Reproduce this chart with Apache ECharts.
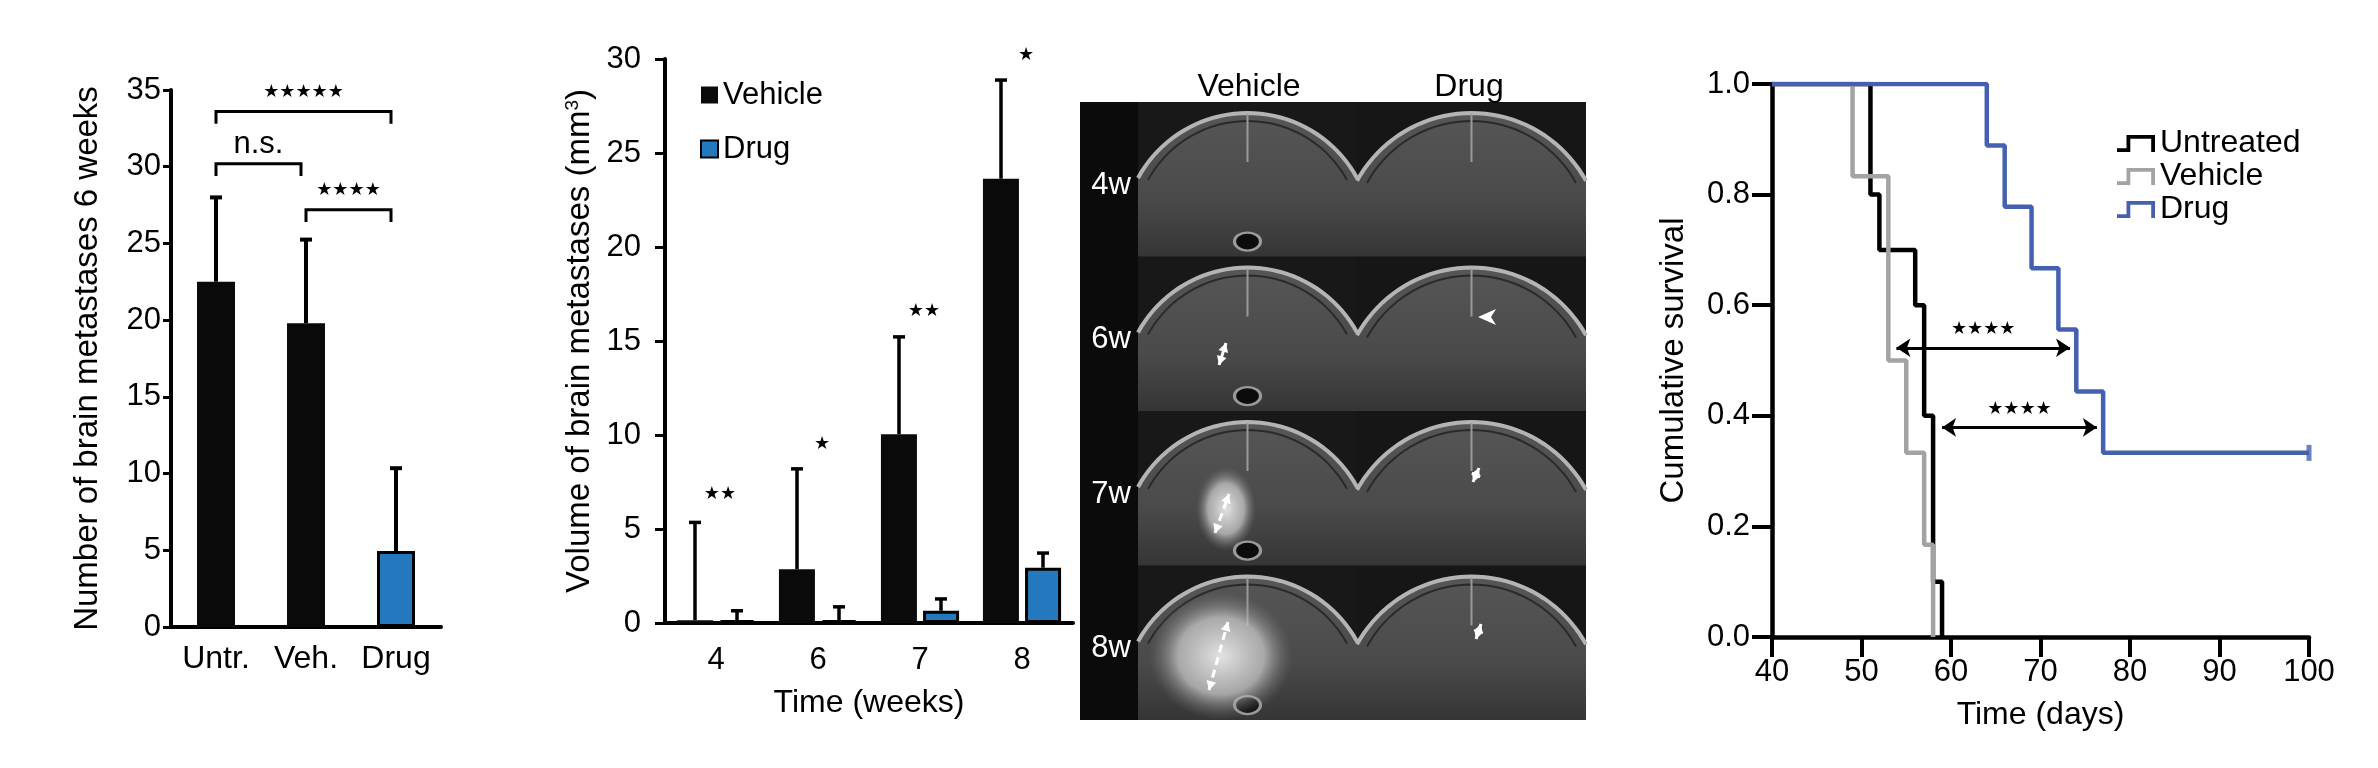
<!DOCTYPE html>
<html>
<head>
<meta charset="utf-8">
<title>Brain metastases figure</title>
<script src="https://cdn.jsdelivr.net/npm/echarts@6/dist/echarts.min.js"></script>
<style>
  html, body { margin: 0; padding: 0; background: #fff; }
  #chart { width: 2378px; height: 768px; }
</style>
</head>
<body>
<div id="chart"></div>
<script>
// --- panel A: number of metastases at 6 weeks ---
const metCategories = ['Untr.', 'Veh.', 'Drug'];
const metMean = [22.5, 19.8, 4.95];
const metErr = [5.5, 5.45, 5.4];
const bracketFrom = [0, 0, 1];
const bracketTo = [2, 1, 2];
const bracketY = [33.6, 30.2, 27.2];
const bracketText = ['★★★★★', 'n.s.', '★★★★'];

// --- panel B: volume over time ---
const weeks = ['4', '6', '7', '8'];
const vehicleMean = [0.15, 2.86, 10.04, 23.63];
const vehicleErr = [5.2, 5.34, 5.18, 5.25];
const drugMean = [0.15, 0.15, 0.65, 2.94];
const drugErr = [0.5, 0.71, 0.63, 0.78];
const weekStars = ['★★', '★', '★★', '★'];
const weekStarY = [6.85, 9.5, 16.6, 30.2];

// --- panel C: MRI montage labels ---
const mriColumns = ['Vehicle', 'Drug'];
const mriRows = ['4w', '6w', '7w', '8w'];

// --- panel D: Kaplan-Meier survival ---
const untrDays = [40, 51, 52, 56, 57, 58, 59];
const untrSurv = [1, 0.8, 0.7, 0.6, 0.4, 0.1, 0];
const vehDays = [40, 49, 53, 55, 57, 58];
const vehSurv = [1, 0.833, 0.5, 0.333, 0.167, 0];
const drugDays = [40, 64, 66, 69, 72, 74, 77, 100];
const drugSurv = [1, 0.889, 0.778, 0.667, 0.556, 0.444, 0.333, 0.333];
const logrankFrom = [53.9, 59.0];
const logrankTo = [73.3, 76.3];
const logrankY = [0.523, 0.379];
const logrankText = ['★★★★', '★★★★'];

const FONT = '"Liberation Sans", Arial, Helvetica, sans-serif';
const STAR_FONT = '"DejaVu Sans", sans-serif';
const BLUE = '#2479be';
const KM_BLUE = '#4560b0';
const KM_GREY = '#a3a3a3';

const zip = (a, b) => a.map((v, i) => [v, b[i]]);

function errorBars(axisIdx, mean, err, shift, width) {
    return {
        type: 'custom',
        xAxisIndex: axisIdx,
        yAxisIndex: axisIdx,
        z: 5,
        silent: true,
        data: mean.map((m, i) => [i, m, m + err[i]]),
        encode: { x: 0, y: [1, 2] },
        renderItem: (params, api) => {
            const base = api.coord([api.value(0), api.value(1)]);
            const top = api.coord([api.value(0), api.value(2)]);
            const x = base[0] + shift;
            const st = { stroke: '#000', lineWidth: width };
            return {
                type: 'group',
                children: [
                    { type: 'line', shape: { x1: x, y1: base[1], x2: x, y2: top[1] }, style: st },
                    { type: 'line', shape: { x1: x - 6, y1: top[1], x2: x + 6, y2: top[1] }, style: st }
                ]
            };
        }
    };
}

function valueAxis(idx, max, interval, opts) {
    return Object.assign({
        type: 'value',
        gridIndex: idx,
        min: 0,
        max: max,
        interval: interval,
        nameLocation: 'middle',
        nameMoveOverlap: false,
        nameTextStyle: { fontFamily: FONT, fontSize: 33, color: '#000' },
        axisLine: { show: true, lineStyle: { color: '#000', width: 4 } },
        axisTick: { show: true, length: 8, lineStyle: { color: '#000', width: 3 } },
        axisLabel: { fontFamily: FONT, fontSize: 31, color: '#000', margin: 12 },
        splitLine: { show: false }
    }, opts);
}

// ---- MRI montage drawn as plain graphics ----
const MRI = { x: 1080, y: 102, w: 506, h: 618, labelW: 58, split: 1357 };

function domePoints(x0, y0, w, h, inset) {
    const half = w / 2;
    const r = half * 1.14;
    const cx = x0 + half;
    const cy = y0 + inset + r;
    const dy = Math.sqrt(r * r - half * half);
    const a0 = Math.atan2(-dy, -half);
    const a1 = Math.atan2(-dy, half);
    const arc = [];
    for (let k = 0; k <= 40; k++) {
        const a = a0 + (a1 - a0) * k / 40;
        arc.push([cx + r * Math.cos(a), cy + r * Math.sin(a)]);
    }
    return { arc, cx, cy, r };
}

function arrowGraphic(x1, y1, x2, y2, dashed) {
    const ang = Math.atan2(y2 - y1, x2 - x1);
    const head = (x, y, a) => ({
        type: 'polygon',
        shape: { points: [[x, y],
            [x - 9 * Math.cos(a) + 5 * Math.sin(a), y - 9 * Math.sin(a) - 5 * Math.cos(a)],
            [x - 9 * Math.cos(a) - 5 * Math.sin(a), y - 9 * Math.sin(a) + 5 * Math.cos(a)]] },
        style: { fill: '#fff' }, z: 20
    });
    return [
        { type: 'line', shape: { x1, y1, x2, y2 },
          style: { stroke: '#fff', lineWidth: 3, lineDash: dashed ? [8, 5] : null }, z: 20 },
        head(x2, y2, ang),
        head(x1, y1, ang + Math.PI)
    ];
}

function mriGraphics() {
    const els = [];
    els.push({ type: 'rect', shape: { x: MRI.x, y: MRI.y, width: MRI.w, height: MRI.h },
               style: { fill: '#0b0b0b' }, z: 1 });
    const rowH = MRI.h / mriRows.length;
    const cols = [
        { x: MRI.x + MRI.labelW, w: MRI.split - MRI.x - MRI.labelW },
        { x: MRI.split, w: MRI.x + MRI.w - MRI.split }
    ];
    mriRows.forEach((row, r) => {
        const y0 = MRI.y + r * rowH;
        cols.forEach((c, ci) => {
            els.push({ type: 'rect', shape: { x: c.x, y: y0, width: c.w, height: rowH },
                       style: { fill: ci === 0 ? '#181818' : '#161616' }, z: 2 });
            const d = domePoints(c.x, y0, c.w, rowH, 11);
            const poly = d.arc.concat([[c.x + c.w, y0 + rowH], [c.x, y0 + rowH]]);
            els.push({ type: 'polygon', shape: { points: poly },
                       style: { fill: new echarts.graphic.LinearGradient(0, 0, 0, 1, [
                           { offset: 0, color: '#565656' }, { offset: 0.6, color: '#4a4a4a' },
                           { offset: 1, color: '#353535' }]) }, z: 3 });
            els.push({ type: 'polyline', shape: { points: d.arc },
                       style: { stroke: '#b4b4b4', lineWidth: 4, fill: null }, z: 4 });
            const inner = domePoints(c.x + 10, y0, c.w - 20, rowH, 19).arc;
            els.push({ type: 'polyline', shape: { points: inner },
                       style: { stroke: '#2a2a2a', lineWidth: 2, fill: null }, z: 4 });
            els.push({ type: 'line', shape: { x1: d.cx, y1: y0 + 12, x2: d.cx, y2: y0 + 60 },
                       style: { stroke: '#9a9a9a', lineWidth: 2 }, z: 4 });
            if (ci === 0) {
                els.push({ type: 'circle', x: d.cx, y: y0 + rowH - 15, scaleX: 13, scaleY: 9,
                           shape: { cx: 0, cy: 0, r: 1 },
                           style: { fill: '#0c0c0c', stroke: '#9a9a9a', lineWidth: 0.25 }, z: 4 });
            }
        });
        els.push({ type: 'text', x: MRI.x + MRI.labelW / 2 + 2, y: y0 + rowH / 2 + 6,
                   style: { text: row, fill: '#fff', fontFamily: FONT, fontSize: 31,
                            align: 'center', verticalAlign: 'middle' }, z: 10 });
    });
    // contrast-enhancing lesions in the vehicle column
    const glow = new echarts.graphic.RadialGradient(0.5, 0.5, 0.5, [
        { offset: 0, color: 'rgba(235,235,235,0.95)' },
        { offset: 0.6, color: 'rgba(200,200,200,0.75)' },
        { offset: 1, color: 'rgba(120,120,120,0)' }]);
    els.push({ type: 'circle', x: 1226, y: 509, scaleX: 30, scaleY: 42,
               shape: { cx: 0, cy: 0, r: 1 }, style: { fill: glow }, z: 6 });
    els.push({ type: 'circle', x: 1221, y: 656, scaleX: 72, scaleY: 64,
               shape: { cx: 0, cy: 0, r: 1 }, style: { fill: glow }, z: 6 });
    [[1219, 365, 1226, 343, false], [1215, 533, 1229, 494, true], [1209, 690, 1228, 622, true],
     [1473, 482, 1479, 468, false], [1476, 639, 1481, 624, false]].forEach(a => {
        arrowGraphic(a[0], a[1], a[2], a[3], a[4]).forEach(e => els.push(e));
    });
    els.push({ type: 'polygon', shape: { points: [[1478, 317], [1496, 309], [1491, 317], [1496, 325]] },
               style: { fill: '#fff' }, z: 20 });
    // column headers
    const heads = [1249, 1469];
    mriColumns.forEach((t, i) => {
        els.push({ type: 'text', x: heads[i], y: 87,
                   style: { text: t, fill: '#000', fontFamily: FONT, fontSize: 32,
                            align: 'center', verticalAlign: 'middle' }, z: 10 });
    });
    return els;
}

const chart = echarts.init(document.getElementById('chart'), null, { renderer: 'canvas' });

const stepIcon = 'path://M0,14 L10,14 L10,0 L40,0 L40,18 L36,18 L36,4 L14,4 L14,18 L0,18 Z';

const option = {
    animation: false,
    backgroundColor: '#fff',
    textStyle: { fontFamily: FONT },
    grid: [
        { left: 171, top: 90, width: 270, height: 537, outerBoundsMode: 'none' },
        { left: 665, top: 59, width: 408, height: 564, outerBoundsMode: 'none' },
        { left: 1772, top: 84, width: 537, height: 553, outerBoundsMode: 'none' }
    ],
    xAxis: [
        {
            type: 'category', gridIndex: 0, data: metCategories,
            axisLine: { lineStyle: { color: '#000', width: 4 } },
            axisTick: { show: false },
            axisLabel: { interval: 0, hideOverlap: false, fontFamily: FONT, fontSize: 32,
                         color: '#000', margin: 16 }
        },
        {
            type: 'category', gridIndex: 1, data: weeks,
            name: 'Time (weeks)', nameLocation: 'middle', nameGap: 64, nameMoveOverlap: false,
            nameTextStyle: { fontFamily: FONT, fontSize: 32, color: '#000' },
            axisLine: { lineStyle: { color: '#000', width: 4 } },
            axisTick: { show: false },
            axisLabel: { interval: 0, fontFamily: FONT, fontSize: 31, color: '#000', margin: 22 }
        },
        {
            type: 'value', gridIndex: 2, min: 40, max: 100, interval: 10,
            name: 'Time (days)', nameLocation: 'middle', nameGap: 62, nameMoveOverlap: false,
            nameTextStyle: { fontFamily: FONT, fontSize: 32, color: '#000' },
            axisLine: { lineStyle: { color: '#000', width: 4.5 } },
            axisTick: { length: 20, lineStyle: { color: '#000', width: 4 } },
            axisLabel: { fontFamily: FONT, fontSize: 31, color: '#000', margin: 20 },
            splitLine: { show: false }
        }
    ],
    yAxis: [
        valueAxis(0, 35, 5, {
            name: 'Number of brain metastases 6 weeks', nameGap: 67,
            axisLabel: { fontFamily: FONT, fontSize: 31, color: '#000', margin: 10 }
        }),
        valueAxis(1, 30, 5, {
            name: 'Volume of brain metastases (mm{sup|3})', nameGap: 69,
            nameTextStyle: {
                fontFamily: FONT, fontSize: 33, color: '#000',
                rich: { sup: { fontFamily: FONT, fontSize: 19, color: '#000', verticalAlign: 'top', padding: [0, 0, 14, 0] } }
            },
            axisTick: { show: true, length: 10, lineStyle: { color: '#000', width: 3 } },
            axisLabel: { fontFamily: FONT, fontSize: 31, color: '#000', margin: 24 }
        }),
        valueAxis(2, 1, 0.2, {
            name: 'Cumulative survival', nameGap: 82,
            axisLine: { show: true, lineStyle: { color: '#000', width: 4.5 } },
            axisTick: { show: true, length: 20, lineStyle: { color: '#000', width: 4 } },
            axisLabel: { fontFamily: FONT, fontSize: 31, color: '#000', margin: 22,
                         formatter: v => v.toFixed(1) }
        })
    ],
    legend: [
        {
            orient: 'vertical', left: 695, top: 74, itemGap: 22,
            itemWidth: 17, itemHeight: 17, icon: 'rect',
            data: ['vol-Vehicle', 'vol-Drug'],
            formatter: n => n.replace('vol-', ''),
            selectedMode: false,
            textStyle: { fontFamily: FONT, fontSize: 31, color: '#000', lineHeight: 32 }
        },
        {
            orient: 'vertical', left: 2112, top: 122, itemGap: 0,
            itemWidth: 38, itemHeight: 18, selectedMode: false,
            data: [
                { name: 'Untreated', icon: stepIcon },
                { name: 'Vehicle', icon: stepIcon },
                { name: 'Drug', icon: stepIcon }
            ],
            textStyle: { fontFamily: FONT, fontSize: 32, color: '#000', lineHeight: 33 }
        }
    ],
    graphic: mriGraphics(),
    series: [
        // panel A
        {
            type: 'bar', xAxisIndex: 0, yAxisIndex: 0, barWidth: 38,
            data: metMean.map((v, i) => ({
                value: v,
                itemStyle: i === 2
                    ? { color: BLUE, borderColor: '#000', borderWidth: 3 }
                    : { color: '#0a0a0a' }
            }))
        },
        errorBars(0, metMean, metErr, 0, 4),
        {
            type: 'custom', xAxisIndex: 0, yAxisIndex: 0, z: 6, silent: true,
            data: bracketFrom.map((f, i) => [f, bracketTo[i], bracketY[i]]),
            encode: { x: [0, 1], y: 2 },
            renderItem: (params, api) => {
                const a = api.coord([api.value(0), api.value(2)]);
                const b = api.coord([api.value(1), api.value(2)]);
                const leg = api.size([0, 0.8])[1];
                const x1 = a[0], x2 = b[0] - 5, y = a[1];
                const label = bracketText[params.dataIndex];
                const isStar = label.indexOf('★') >= 0;
                return {
                    type: 'group',
                    children: [
                        { type: 'polyline',
                          shape: { points: [[x1, y + leg], [x1, y], [x2, y], [x2, y + leg]] },
                          style: { stroke: '#000', lineWidth: 3, fill: null } },
                        { type: 'text', x: (x1 + x2) / 2, y: y - 19,
                          style: { text: label, fill: '#000',
                                   fontFamily: isStar ? STAR_FONT : FONT,
                                   fontSize: isStar ? 18 : 31,
                                   align: 'center', verticalAlign: 'middle' } }
                    ]
                };
            }
        },
        // panel B
        {
            name: 'vol-Vehicle', type: 'bar', xAxisIndex: 1, yAxisIndex: 1,
            barWidth: 36, barGap: '17%',
            itemStyle: { color: '#0a0a0a' },
            data: vehicleMean
        },
        {
            name: 'vol-Drug', type: 'bar', xAxisIndex: 1, yAxisIndex: 1,
            barWidth: 36, barGap: '17%',
            itemStyle: { color: BLUE, borderColor: '#000', borderWidth: 3 },
            data: drugMean
        },
        errorBars(1, vehicleMean, vehicleErr, -21, 3.5),
        errorBars(1, drugMean, drugErr, 21, 3.5),
        {
            type: 'custom', xAxisIndex: 1, yAxisIndex: 1, z: 6, silent: true,
            data: weekStarY.map((v, i) => [i, v]),
            encode: { x: 0, y: 1 },
            renderItem: (params, api) => {
                const p = api.coord([api.value(0), api.value(1)]);
                return { type: 'text', x: p[0] + 4, y: p[1],
                         style: { text: weekStars[params.dataIndex], fill: '#000',
                                  fontFamily: STAR_FONT, fontSize: 18,
                                  align: 'center', verticalAlign: 'middle' } };
            }
        },
        // panel D
        {
            name: 'Untreated', type: 'line', step: 'end', xAxisIndex: 2, yAxisIndex: 2,
            symbol: 'none', showSymbol: false, z: 3,
            itemStyle: { color: '#000' },
            lineStyle: { color: '#000', width: 4.5 },
            data: zip(untrDays, untrSurv),
            markLine: {
                silent: true,
                symbol: ['arrow', 'arrow'],
                symbolSize: 14,
                lineStyle: { color: '#000', width: 3, type: 'solid' },
                label: { show: true, position: 'insideMiddleTop', distance: 9,
                         formatter: '{b}', color: '#000',
                         fontFamily: STAR_FONT, fontSize: 18 },
                data: logrankFrom.map((f, i) => [
                    { coord: [f, logrankY[i]], name: logrankText[i] },
                    { coord: [logrankTo[i], logrankY[i]] }
                ])
            }
        },
        {
            name: 'Vehicle', type: 'line', step: 'end', xAxisIndex: 2, yAxisIndex: 2,
            symbol: 'none', showSymbol: false, z: 4,
            itemStyle: { color: KM_GREY },
            lineStyle: { color: KM_GREY, width: 4.5 },
            data: zip(vehDays, vehSurv)
        },
        {
            name: 'Drug', type: 'line', step: 'end', xAxisIndex: 2, yAxisIndex: 2,
            symbol: 'none', showSymbol: false, z: 5,
            itemStyle: { color: KM_BLUE },
            lineStyle: { color: KM_BLUE, width: 4.5 },
            data: zip(drugDays, drugSurv)
        },
        {
            // censored observation at end of follow-up
            type: 'scatter', xAxisIndex: 2, yAxisIndex: 2, z: 6, silent: true,
            symbol: 'rect', symbolSize: [5, 16],
            itemStyle: { color: KM_BLUE },
            data: [[drugDays[drugDays.length - 1], drugSurv[drugSurv.length - 1]]]
        }
    ]
};

chart.setOption(option);
</script>
</body>
</html>
